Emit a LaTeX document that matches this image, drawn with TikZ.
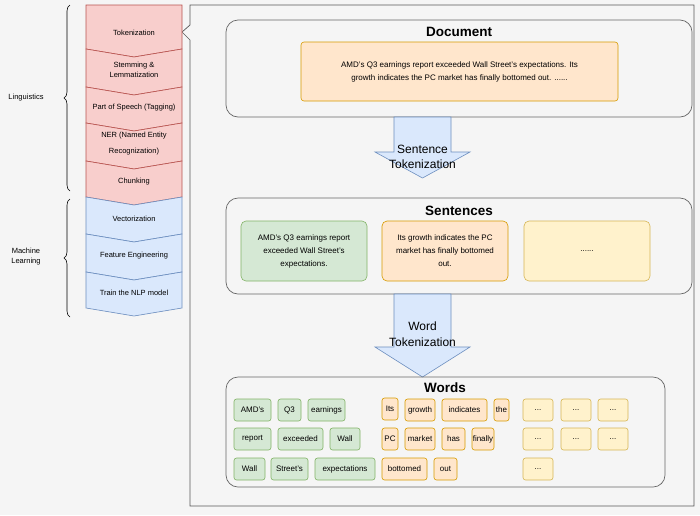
\documentclass[tikz,border=0pt]{standalone}
\usepackage{fontspec}
\setmainfont{Liberation Sans}
\usetikzlibrary{decorations.pathreplacing}
\definecolor{bg}{HTML}{F5F5F5}
\definecolor{rf}{HTML}{F8CECC}\definecolor{rs}{HTML}{B85450}
\definecolor{bf}{HTML}{DAE8FC}\definecolor{bs}{HTML}{6C8EBF}
\definecolor{gf}{HTML}{D5E8D4}\definecolor{gs}{HTML}{82B366}
\definecolor{of}{HTML}{FFE6CC}\definecolor{os}{HTML}{D79B00}
\definecolor{yf}{HTML}{FFF2CC}\definecolor{ys}{HTML}{D6B656}
\tikzset{
 stage/.style={font=\fontsize{7.5}{10}\selectfont,align=center},
 panel/.style={draw=gray!80!black,rounded corners=12pt,line width=0.7pt},
 ttl/.style={font=\fontsize{13.5}{15}\selectfont\bfseries},
 wd/.style={rounded corners=2.5pt,line width=0.6pt,font=\fontsize{8}{9}\selectfont,inner sep=0pt,minimum height=22pt},
 gw/.style={wd,draw=gs,fill=gf}, ow/.style={wd,draw=os,fill=of}, yw/.style={wd,draw=ys,fill=yf},
 bigarrow/.style={draw=bs,fill=bf,line width=0.6pt},
 brace/.style={decorate,decoration={brace,amplitude=6pt},line width=0.6pt},
 sent/.style={rounded corners=5pt,line width=0.6pt,minimum width=126pt,minimum height=60pt,align=center,font=\fontsize{8}{13}\selectfont},
}
\newcommand\wb[6]{\node[#1,minimum width={#4pt-#3pt}] (#2) at ({(#3+#4)/2},{#5+11}) {#6};}
\begin{document}
\begin{tikzpicture}[x=1pt,y=-1pt]
\useasboundingbox (0,0) rectangle (700,515);
\fill[bg] (0,0) rectangle (700,515);
% frame
\draw[draw=gray!70!black,line width=0.7pt] (190,5) -- (694,5) -- (694,506) -- (190,506) -- (190,40) -- (182,32) -- (190,25) -- cycle;
% stages
\draw[draw=rs,fill=rf,line width=0.6pt] (86,5) -- (182,5) -- (182,49) -- (134,57) -- (86,49) -- cycle;
\foreach \t/\b in {49/87,87/123,123/161,161/197}{
 \draw[draw=rs,fill=rf,line width=0.6pt] (86,\t) -- (134,\t+8) -- (182,\t) -- (182,\b) -- (134,\b+8) -- (86,\b) -- cycle;}
\foreach \t/\b in {197/234,234/272,272/308}{
 \draw[draw=bs,fill=bf,line width=0.6pt] (86,\t) -- (134,\t+8) -- (182,\t) -- (182,\b) -- (134,\b+8) -- (86,\b) -- cycle;}
\node[stage] (s1) at (134,33) {Tokenization};
\node[stage] (s2) at (134,70) {Stemming \&\\Lemmatization};
\node[stage] (s3) at (134,108) {Part of Speech (Tagging)};
\node[stage,font=\fontsize{7.5}{16}\selectfont] (s4) at (134,144) {NER (Named Entity\\Recognization)};
\node[stage] (s5) at (134,182) {Chunking};
\node[stage] (s6) at (134,219) {Vectorization};
\node[stage] (s7) at (134,256) {Feature Engineering};
\node[stage] (s8) at (134,293) {Train the NLP model};
% braces
\draw[brace] (70,191) -- (70,5);
\draw[brace] (70,317) -- (70,199);
\node[stage] (l1) at (26,98) {Linguistics};
\node[stage] (l2) at (26,257) {Machine\\Learning};
% Document
\draw[panel] (226,20) rectangle (692,117);
\node[ttl] (dt) at (459,32) {Document};
\node[draw=os,fill=of,rounded corners=3pt,line width=0.6pt,minimum width=317pt,minimum height=59pt,align=center,font=\fontsize{8}{13}\selectfont] (doc) at (459.5,71.5) {AMD's Q3 earnings report exceeded Wall Street's expectations. Its\\growth indicates the PC market has finally bottomed out. ......};
% arrow 1
\draw[bigarrow] (394,117) -- (451,117) -- (451,152) -- (470,152) -- (422.5,178) -- (375,152) -- (394,152) -- cycle;
\node[align=center,font=\fontsize{12}{15.5}\selectfont] (a1) at (422.5,157) {Sentence\\Tokenization};
% Sentences
\draw[panel] (226,198) rectangle (692,294);
\node[ttl] (st) at (459,211) {Sentences};
\node[sent,draw=gs,fill=gf] (se1) at (304,251) {AMD's Q3 earnings report\\exceeded Wall Street's\\expectations.};
\node[sent,draw=os,fill=of] (se2) at (445,251) {Its growth indicates the PC\\market has finally bottomed\\out.};
\node[sent,draw=ys,fill=yf] (se3) at (587,251) {......};
% arrow 2
\draw[bigarrow] (394,294) -- (451,294) -- (451,347) -- (470,347) -- (422.5,377) -- (375,347) -- (394,347) -- cycle;
\node[align=center,font=\fontsize{12}{15.5}\selectfont] (a2) at (422.5,334) {Word\\Tokenization};
% Words
\draw[panel] (226,377) rectangle (665,487);
\node[ttl] (wt) at (445,388) {Words};
\wb{gw}{w1}{234}{271}{399}{AMD's}
\wb{gw}{w2}{278}{301}{399}{Q3}
\wb{gw}{w3}{308}{345}{399}{earnings}
\wb{gw}{w4}{234}{271}{428}{report}
\wb{gw}{w5}{278}{323}{428}{exceeded}
\wb{gw}{w6}{330}{360}{428}{Wall}
\wb{gw}{w7}{234}{265}{458}{Wall}
\wb{gw}{w8}{271}{308}{458}{Street's}
\wb{gw}{w9}{315}{375}{458}{expectations}
\wb{ow}{o1}{382}{398}{398}{Its}
\wb{ow}{o2}{405}{435}{399}{growth}
\wb{ow}{o3}{442}{487}{399}{indicates}
\wb{ow}{o4}{494}{509}{399}{the}
\wb{ow}{o5}{382}{398}{428}{PC}
\wb{ow}{o6}{405}{435}{428}{market}
\wb{ow}{o7}{442}{465}{428}{has}
\wb{ow}{o8}{472}{494}{428}{finally}
\wb{ow}{o9}{382}{427}{458}{bottomed}
\wb{ow}{o10}{434}{457}{458}{out}
\wb{yw}{y1}{523}{553}{399}{...}
\wb{yw}{y2}{561}{591}{399}{...}
\wb{yw}{y3}{598}{628}{399}{...}
\wb{yw}{y4}{523}{553}{428}{...}
\wb{yw}{y5}{561}{591}{428}{...}
\wb{yw}{y6}{598}{628}{428}{...}
\wb{yw}{y7}{523}{553}{458}{...}
\end{tikzpicture}
\end{document}
